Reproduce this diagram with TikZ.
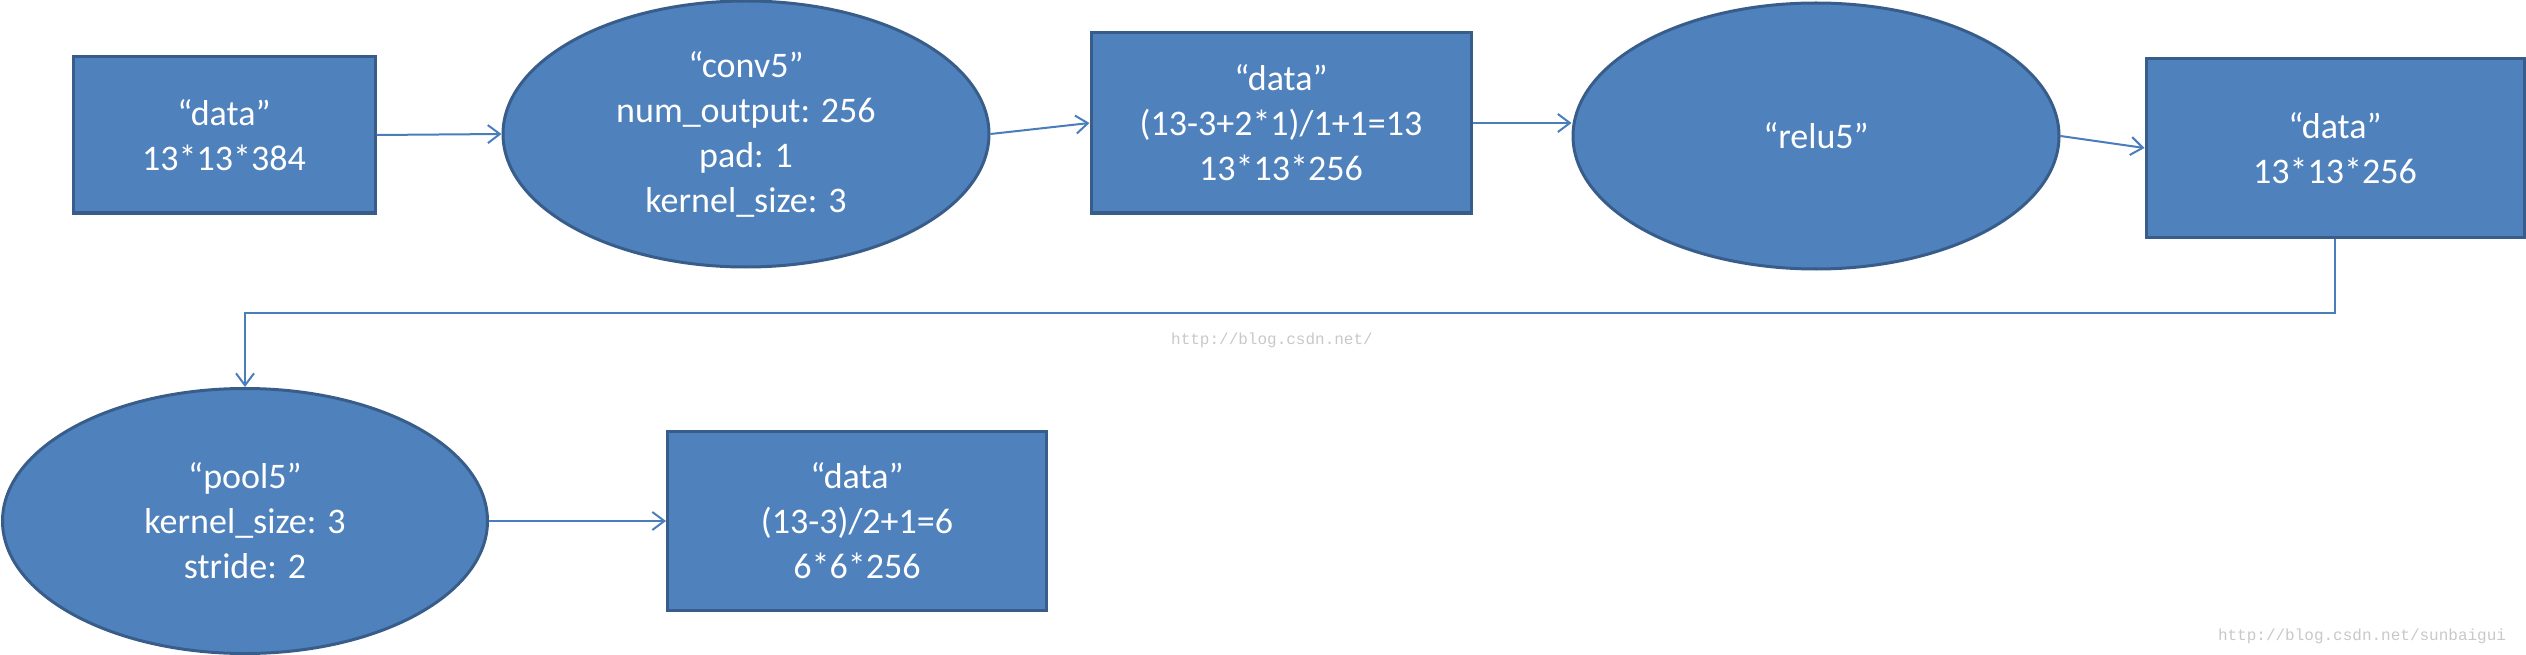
\documentclass[tikz,border=0pt]{standalone}
\usepackage{fontspec}
\setmainfont{Carlito}
\newfontfamily\wmfont{Liberation Mono}
\usetikzlibrary{shapes.geometric,arrows.meta}
\definecolor{nodefill}{HTML}{4F81BD}
\definecolor{nodeedge}{HTML}{385D8A}
\definecolor{linkcol}{HTML}{4A7EBB}
\definecolor{wmgray}{HTML}{C8C8C8}
\tikzset{
  base/.style={fill=nodefill,draw=nodeedge,line width=3pt,text=white,align=center,
    inner sep=0pt,font=\fontsize{36}{45}\selectfont},
  databox/.style={base,rectangle},
  layer/.style={base,ellipse,minimum width=486pt,minimum height=266pt},
  link/.style={draw=linkcol,line width=2pt,-{Straight Barb[length=12pt,width=18pt,line width=2pt]}},
  watermark/.style={text=wmgray,font=\wmfont\fontsize{16}{18}\selectfont,inner sep=0pt}
}
\begin{document}
\begin{tikzpicture}[x=1pt,y=-1pt]
\useasboundingbox (0,0) rectangle (2526,655);
\node[databox,minimum width=302pt,minimum height=156pt] (d1) at (224,135) {“data”\\13*13*384};
\node[layer] (c5) at (746,134) {“conv5”\\num\_output: 256\\pad: 1\\kernel\_size: 3};
\node[databox,minimum width=380pt,minimum height=180pt] (d2) at (1281,123) {“data”\\(13-3+2*1)/1+1=13\\13*13*256};
\node[layer] (r5) at (1816,136) {“relu5”};
\node[databox,minimum width=378pt,minimum height=179pt] (d3) at (2335,148) {“data”\\13*13*256};
\node[layer,minimum width=485pt,minimum height=265pt] (p5) at (245,521) {“pool5”\\kernel\_size: 3\\stride: 2};
\node[databox,minimum width=379pt,minimum height=179pt] (d4) at (857,521) {“data”\\(13-3)/2+1=6\\6*6*256};
\coordinate (turn) at (0,313);
\draw[link] (d1.east) -- (c5.west);
\draw[link] (c5.east) -- (d2.west);
\draw[link] (d2.east) -- (r5.west |- d2.east);
\draw[link] (r5.east) -- (d3.west);
\draw[link] (d3.south) -- (d3.south |- turn) -| (p5.north);
\draw[link] (p5.east) -- (d4.west);
\node[watermark] (wm1) at (1272,340) {http://blog.csdn.net/};
\node[watermark] (wm2) at (2362,636) {http://blog.csdn.net/sunbaigui};
\end{tikzpicture}
\end{document}
